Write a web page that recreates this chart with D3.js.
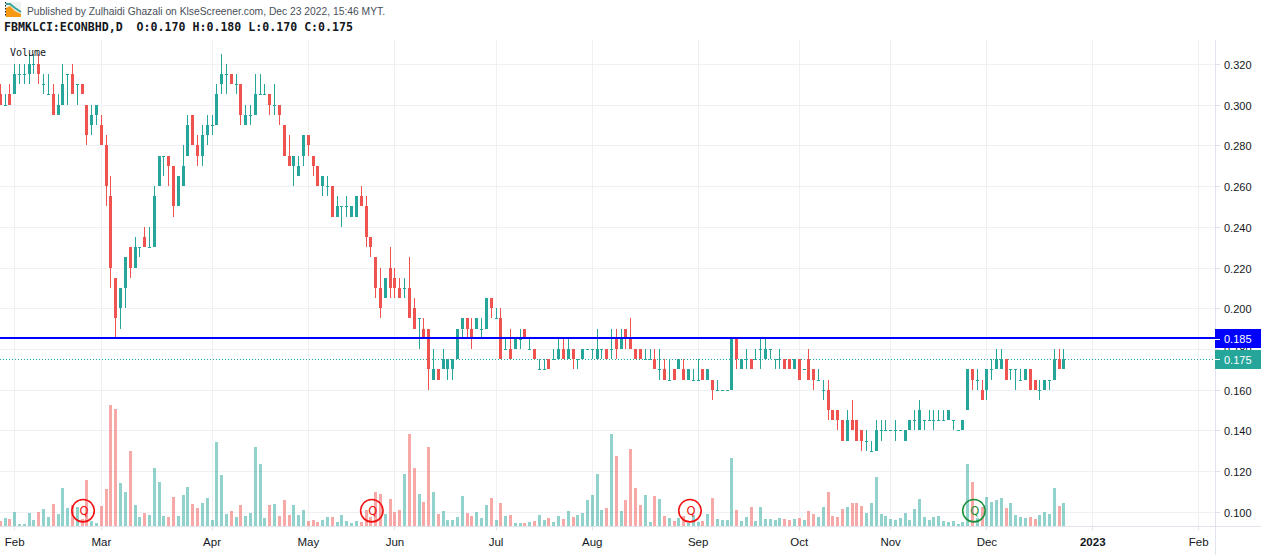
<![CDATA[<!DOCTYPE html>
<html><head><meta charset="utf-8">
<script src="https://cdn.jsdelivr.net/npm/d3@7"></script>
<style>html,body{margin:0;padding:0;background:#fff;overflow:hidden}svg{display:block}</style>
</head><body><svg id="c" width="1261" height="555"></svg>
<script>
const opens=[.305,.30,.305,.305,.315,.315,.315,.32,.32,.31,.305,.305,.295,.30,.315,.315,.31,.31,.30,.29,.295,.29,.28,.255,.215,.20,.21,.23,.22,.23,.235,.23,.23,.26,.275,.275,.27,.25,.26,.275,.295,.28,.275,.285,.29,.29,.31,.315,.315,.31,.31,.29,.295,.295,.305,.305,.305,.30,.30,.29,.275,.27,.265,.275,.285,.275,.27,.26,.26,.26,.245,.25,.25,.245,.245,.255,.25,.235,.225,.21,.205,.22,.215,.21,.21,.21,.20,.195,.19,.19,.165,.17,.17,.17,.17,.175,.19,.195,.19,.19,.19,.19,.205,.195,.195,.18,.18,.18,.185,.19,.18,.18,.17,.17,.175,.175,.175,.18,.175,.18,.175,.175,.18,.18,.175,.18,.18,.18,.185,.18,.19,.185,.18,.18,.175,.175,.175,.17,.17,.165,.17,.17,.17,.165,.165,.165,.17,.165,.165,.16,.16,.16,.16,.185,.17,.175,.175,.175,.18,.175,.18,.175,.175,.175,.175,.17,.175,.17,.175,.17,.165,.16,.16,.15,.15,.145,.135,.145,.145,.14,.135,.13,.13,.14,.14,.14,.14,.14,.135,.14,.145,.14,.145,.145,.145,.145,.145,.145,.145,.14,.14,.15,.17,.165,.16,.16,.17,.17,.17,.175,.17,.17,.165,.165,.17,.165,.16,.16,.165,.165,.175,.17];
const highs=[.31,.305,.31,.32,.32,.32,.325,.325,.325,.315,.315,.31,.305,.32,.315,.32,.31,.31,.30,.30,.30,.295,.285,.265,.215,.21,.225,.23,.235,.23,.24,.24,.26,.275,.275,.275,.27,.265,.28,.295,.295,.285,.29,.295,.295,.31,.325,.32,.315,.315,.31,.30,.30,.315,.315,.31,.305,.31,.30,.29,.285,.275,.275,.285,.285,.275,.27,.265,.265,.26,.255,.25,.255,.25,.255,.26,.255,.235,.225,.22,.215,.23,.22,.215,.215,.225,.205,.195,.195,.19,.18,.17,.18,.175,.175,.19,.195,.195,.195,.195,.195,.205,.205,.20,.20,.185,.19,.185,.19,.19,.185,.18,.175,.175,.175,.18,.185,.185,.185,.18,.175,.18,.18,.18,.19,.18,.18,.19,.19,.19,.19,.195,.18,.18,.18,.18,.18,.18,.175,.175,.17,.175,.175,.17,.17,.175,.17,.17,.165,.165,.16,.16,.185,.185,.175,.18,.175,.18,.185,.185,.18,.175,.18,.175,.175,.175,.175,.17,.18,.17,.17,.165,.165,.15,.15,.145,.15,.155,.145,.14,.14,.135,.145,.145,.145,.14,.145,.14,.14,.145,.15,.155,.145,.15,.15,.15,.15,.15,.145,.14,.145,.17,.17,.17,.165,.17,.175,.18,.18,.175,.17,.17,.17,.17,.17,.165,.165,.165,.165,.18,.18,.18];
const lows=[.30,.30,.30,.305,.31,.31,.31,.315,.31,.305,.305,.295,.295,.30,.30,.305,.30,.305,.28,.285,.29,.28,.25,.21,.185,.19,.20,.215,.22,.225,.23,.23,.23,.26,.265,.26,.245,.25,.26,.275,.28,.27,.27,.28,.285,.29,.305,.305,.31,.305,.29,.29,.29,.295,.305,.305,.295,.295,.29,.275,.27,.26,.265,.27,.275,.265,.26,.255,.255,.245,.245,.24,.245,.245,.245,.25,.23,.225,.205,.195,.205,.205,.205,.205,.205,.195,.19,.18,.185,.16,.165,.165,.17,.165,.165,.175,.185,.185,.18,.19,.185,.19,.195,.195,.175,.18,.175,.18,.18,.185,.18,.175,.17,.17,.17,.175,.175,.175,.175,.17,.17,.175,.18,.175,.175,.175,.175,.175,.175,.18,.18,.18,.175,.175,.175,.175,.17,.165,.165,.165,.165,.17,.165,.165,.165,.165,.165,.165,.155,.16,.16,.16,.16,.17,.17,.17,.17,.175,.17,.175,.175,.17,.17,.17,.17,.17,.165,.17,.165,.16,.165,.155,.145,.145,.14,.135,.135,.14,.135,.13,.13,.13,.13,.135,.14,.14,.135,.14,.135,.14,.14,.14,.14,.145,.14,.145,.145,.145,.14,.14,.14,.15,.16,.16,.155,.155,.165,.17,.17,.165,.165,.16,.165,.165,.16,.16,.155,.16,.16,.165,.17,.17];
const closes=[.30,.30,.30,.315,.315,.315,.32,.32,.315,.31,.305,.295,.30,.31,.315,.305,.31,.305,.285,.295,.30,.28,.26,.22,.195,.21,.225,.22,.23,.23,.23,.23,.255,.275,.275,.27,.25,.265,.27,.29,.28,.275,.285,.29,.29,.305,.315,.315,.31,.31,.295,.295,.295,.305,.305,.305,.30,.30,.295,.275,.27,.275,.27,.285,.28,.27,.26,.265,.26,.245,.25,.25,.25,.25,.255,.25,.235,.23,.21,.20,.215,.21,.21,.205,.21,.195,.19,.195,.185,.17,.17,.165,.175,.175,.175,.19,.195,.19,.185,.195,.19,.205,.20,.195,.175,.18,.175,.185,.185,.185,.18,.175,.17,.17,.17,.175,.18,.175,.18,.175,.175,.18,.18,.18,.18,.18,.175,.18,.18,.185,.185,.18,.175,.175,.175,.175,.17,.17,.165,.165,.165,.175,.165,.17,.165,.165,.165,.17,.16,.16,.16,.16,.185,.175,.175,.175,.17,.175,.18,.18,.18,.175,.175,.17,.17,.175,.165,.17,.165,.165,.165,.16,.15,.145,.145,.135,.145,.14,.135,.135,.135,.13,.14,.14,.14,.14,.14,.14,.14,.145,.145,.15,.145,.145,.145,.145,.145,.15,.145,.14,.145,.17,.165,.165,.155,.17,.17,.175,.175,.165,.17,.17,.165,.17,.16,.16,.16,.165,.165,.175,.17,.175];
const volumes=[16,24,21,42,6,6,39,18,42,51,27,66,36,114,54,63,57,21,138,15,9,60,111,363,351,129,102,225,63,27,39,33,174,132,30,27,87,30,93,117,66,54,69,84,18,252,153,36,45,27,63,30,39,237,186,24,63,66,30,78,33,63,33,48,15,18,12,18,27,27,12,33,15,9,15,12,48,27,102,96,36,81,42,48,156,276,174,96,72,237,102,36,45,18,18,27,90,39,30,42,24,63,84,18,69,30,33,9,9,9,12,15,33,18,24,12,30,21,45,27,33,39,78,93,156,48,54,276,210,45,78,231,114,63,93,12,90,81,30,24,15,24,30,9,33,12,15,36,84,21,18,18,204,48,15,27,57,15,57,21,21,18,24,21,18,21,24,18,45,36,27,57,102,30,27,51,57,69,69,60,39,69,147,36,30,21,18,24,39,18,51,81,27,18,27,30,15,12,15,6,12,186,132,24,57,87,72,78,84,54,69,33,27,24,27,21,33,42,36,114,60,69];

const priceTicks=[0.32,0.30,0.28,0.26,0.24,0.22,0.20,0.18,0.16,0.14,0.12,0.10];
const timeLabels=["Feb","Mar","Apr","May","Jun","Jul","Aug","Sep","Oct","Nov","Dec","2023","Feb"];
const timeIndex=[3,21,44,64,82,103,123,145,166,185,205,227,249];
const earningsIndex=[17.2,77.2,143.3,202.3];
const earningsColor=["#f01010","#f01010","#f01010","#1e8f3a"];
const resistance=0.185, lastClose=0.175;

const UP="#26a69a",DOWN="#ef5350",GRID="#eff0f3",AXIS="#e0e3eb",TEXT="#131722";
const W=1261,H=555,paneR=1215,base=526;
const x=d3.scaleLinear().domain([0,221]).range([0.3,1063.9]);
const y=d3.scaleLinear().domain([0.32,0.10]).range([63.9,511.9]);
const v=d3.scaleLinear().domain([0,400]).range([base,base-133.33]);
const px=i=>Math.round(x(i)-0.5);
const svg=d3.select("#c");
svg.style("shape-rendering","crispEdges");
const idx=d3.range(opens.length);

// grid
const g=svg.append("g");
g.selectAll(".gy").data(priceTicks).join("line").attr("x1",0).attr("x2",paneR)
 .attr("y1",d=>Math.round(y(d))+.5).attr("y2",d=>Math.round(y(d))+.5).attr("stroke",GRID);
g.selectAll(".gx").data(timeIndex).join("line").attr("x1",d=>px(d)+.5).attr("x2",d=>px(d)+.5)
 .attr("y1",40).attr("y2",base).attr("stroke",GRID);

// volume
svg.append("g").attr("fill-opacity",.5).selectAll("rect").data(idx).join("rect")
 .attr("x",i=>px(i)-1).attr("width",3)
 .attr("y",i=>Math.round(v(volumes[i]))).attr("height",i=>base-Math.round(v(volumes[i])))
 .attr("fill",i=>closes[i]>=opens[i]?UP:DOWN);

// last price dotted
svg.append("line").attr("x1",0).attr("x2",paneR).attr("y1",Math.round(y(lastClose))+.5).attr("y2",Math.round(y(lastClose))+.5)
 .attr("stroke",UP).attr("stroke-dasharray","1 2");

// candles
const cg=svg.append("g");
cg.selectAll(".w").data(idx).join("rect").attr("x",px).attr("width",1)
 .attr("y",i=>Math.round(y(highs[i]))).attr("height",i=>Math.max(1,Math.round(y(lows[i]))-Math.round(y(highs[i]))))
 .attr("fill",i=>closes[i]>=opens[i]?UP:DOWN);
cg.selectAll(".b").data(idx).join("rect").attr("x",i=>px(i)-1).attr("width",3)
 .attr("y",i=>Math.round(y(Math.max(opens[i],closes[i]))))
 .attr("height",i=>Math.max(1,Math.round(y(Math.min(opens[i],closes[i])))-Math.round(y(Math.max(opens[i],closes[i])))))
 .attr("fill",i=>closes[i]>=opens[i]?UP:DOWN);

// resistance line
svg.append("line").attr("x1",0).attr("x2",paneR).attr("y1",338).attr("y2",338).attr("stroke","#0000ff").attr("stroke-width",2);

// earnings markers
const em=svg.append("g").style("shape-rendering","auto").selectAll("g").data(earningsIndex).join("g")
 .attr("transform",d=>`translate(${x(d)},510.7)`);
em.append("circle").attr("r",11.2).attr("fill","none").attr("stroke-width",1.6).attr("stroke",(d,i)=>earningsColor[i]);
em.append("text").text("Q").attr("text-anchor","middle").attr("x",1).attr("y",4).attr("font-family","DejaVu Sans").attr("font-size",11.5).attr("fill",(d,i)=>earningsColor[i]);

// axes
const ax=svg.append("g");
ax.append("line").attr("x1",0).attr("x2",W).attr("y1",base+.5).attr("y2",base+.5).attr("stroke",AXIS);
ax.append("line").attr("x1",paneR+.5).attr("x2",paneR+.5).attr("y1",40).attr("y2",H).attr("stroke",AXIS);
ax.selectAll(".tx").data(timeIndex).join("line").attr("x1",d=>px(d)+.5).attr("x2",d=>px(d)+.5).attr("y1",base).attr("y2",base+4).attr("stroke",AXIS);
ax.selectAll(".ty").data(priceTicks).join("line").attr("x1",paneR).attr("x2",paneR+5)
 .attr("y1",d=>Math.round(y(d))+.5).attr("y2",d=>Math.round(y(d))+.5).attr("stroke",AXIS);

const FONT="Liberation Sans";
const t=svg.append("g").style("shape-rendering","auto").attr("font-family",FONT).attr("fill",TEXT);
t.selectAll(".ly").data(priceTicks).join("text").attr("font-size",11).attr("x",1224).attr("y",d=>y(d)+5).text(d=>d.toFixed(3));
t.selectAll(".lx").data(timeLabels).join("text").attr("font-size",11.5).attr("x",(d,i)=>x(timeIndex[i])).attr("y",546).attr("text-anchor","middle")
 .attr("font-weight",d=>d==="2023"?"bold":"normal").text(d=>d);

// price labels
const lab=[[resistance,"#0000ff",329,19],[lastClose,UP,350,19]];
lab.forEach(l=>{
 svg.append("rect").attr("x",paneR).attr("y",l[2]).attr("width",W-paneR).attr("height",l[3]).attr("fill",l[1]);
 svg.append("line").attr("x1",paneR).attr("x2",paneR+5).attr("y1",Math.round(y(l[0]))).attr("y2",Math.round(y(l[0]))).attr("stroke","#fff");
 svg.append("text").attr("x",1224).attr("y",l[2]+14).attr("font-family",FONT).attr("font-size",11).attr("fill","#fff").text(l[0].toFixed(3));
});

// header
svg.append("text").attr("x",27).attr("y",15).attr("font-family",FONT).attr("font-size",11.5).attr("textLength",358).attr("lengthAdjust","spacingAndGlyphs").attr("fill","#4a4f5a").text("Published by Zulhaidi Ghazali on KlseScreener.com, Dec 23 2022, 15:46 MYT.");
svg.append("text").attr("x",4).attr("y",31).style("white-space","pre").attr("font-family","DejaVu Sans Mono").attr("font-weight","bold").attr("font-size",11.6).attr("fill",TEXT).text("FBMKLCI:ECONBHD,D  O:0.170 H:0.180 L:0.170 C:0.175");
svg.append("text").attr("x",10).attr("y",56).attr("font-family","DejaVu Sans Mono").attr("font-size",10).attr("fill",TEXT).text("Volume");
// logo
const logo=svg.append("g").style("shape-rendering","auto");
logo.append("rect").attr("x",5).attr("y",2).attr("width",16).attr("height",15).attr("fill","#eef3f1");
logo.append("path").attr("d","M6 8L10 6L15 11L21 14V17H6Z").attr("fill","#f59a12");
logo.append("path").attr("d","M6 4L10 4L15 8L21 12").attr("fill","none").attr("stroke","#3aa39a").attr("stroke-width",2);
logo.append("path").attr("d","M5.5 2V17").attr("stroke","#222").attr("stroke-dasharray","1.5 1.5");
</script></body></html>]]>
